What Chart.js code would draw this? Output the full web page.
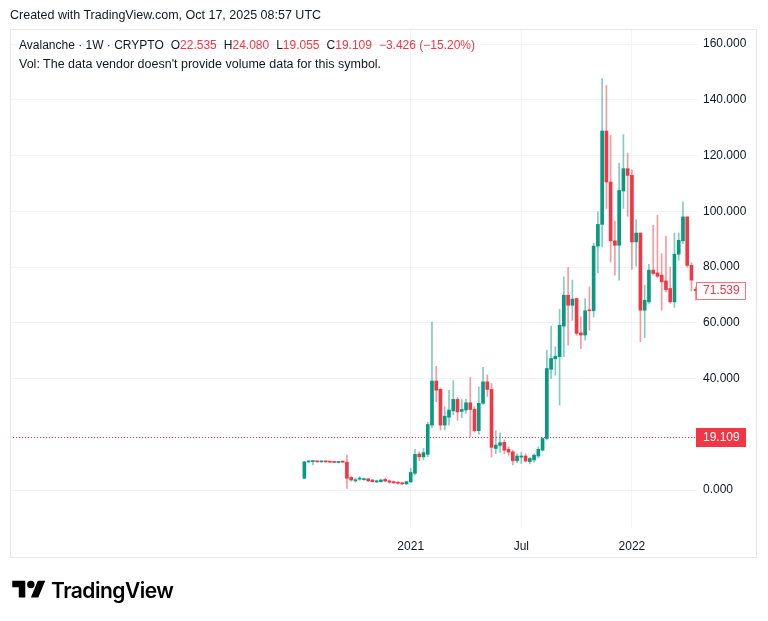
<!DOCTYPE html>
<html>
<head>
<meta charset="utf-8">
<script src="https://cdn.jsdelivr.net/npm/chart.js@4.4.1/dist/chart.umd.min.js"></script>
<style>
  html, body { margin: 0; padding: 0; background: #fff; }
  #wrap { position: relative; width: 768px; height: 621px; overflow: hidden; font-family: "Liberation Sans", Arial, sans-serif; color: #131722; }
  #chart { position: absolute; left: 0; top: 0; }
  #created { position: absolute; left: 10px; top: 8px; font-size: 12.5px; }
  #legend { position: absolute; left: 19px; top: 36px; font-size: 12px; line-height: 18.5px; }
  #legend .row1 span { margin-left: 7px; }
  #legend .row1 span.n { margin-left: 0; }
  #legend .red { color: #F23645; }
  #legend .row2 { font-size: 12.5px; }
  #logo { position: absolute; left: 12px; top: 577px; display: flex; align-items: center; }
  #logo span { font-family: Inter, "Noto Sans", sans-serif; font-weight: 600; font-size: 21px; letter-spacing: -0.5px; margin-left: 5px; color: #000; }
</style>
</head>
<body>
<div id="wrap">
  <canvas id="chart" width="768" height="621"></canvas>
  <div id="created">Created with TradingView.com, Oct 17, 2025 08:57 UTC</div>
  <div id="legend">
    <div class="row1"><span class="n">Avalanche · 1W · CRYPTO</span><span>O<b class="red" style="font-weight:normal">22.535</b></span><span>H<b class="red" style="font-weight:normal">24.080</b></span><span>L<b class="red" style="font-weight:normal">19.055</b></span><span>C<b class="red" style="font-weight:normal">19.109</b></span><span class="red">−3.426 (−15.20%)</span></div>
    <div class="row2">Vol: The data vendor doesn't provide volume data for this symbol.</div>
  </div>
  <div id="logo">
    <svg width="34" height="26" viewBox="0 0 36 28"><path d="M14 22H7V11H0V4h14v18zM28 22h-8l7.5-18h8L28 22z" fill="#000"/><circle cx="20" cy="8" r="4" fill="#000"/></svg>
    <span>TradingView</span>
  </div>
</div>
<script>
// weekly candles, week 0 = first bar on the chart
var opens  = [4.2,10.1,10.2,10.3,10.1,10.3,10.1,10.0,9.9,10.1,
              10.0,4.5,3.3,3.9,3.7,4.0,3.6,2.9,3.0,3.8,
              3.3,3.0,2.8,2.6,2.2,2.9,6.0,12.9,11.9,12.8,
              23.3,39.1,36.1,23.3,26.1,28.4,32.5,28.2,28.7,31.3,
              29.0,21.3,31.1,38.8,36.1,14.9,16.0,17.1,14.6,13.7,
              10.5,11.8,12.2,10.2,10.8,12.2,14.3,18.5,43.3,47.1,
              47.8,58.8,69.9,66.3,68.7,56.4,55.6,64.5,64.3,87.5,
              95.3,128.8,110.5,89.4,87.8,107.3,115.3,112.9,89.0,92.2,
              64.5,67.5,78.9,77.9,77.1,75.0,72.3,67.5,84.6,89.4,
              98.0,80.6,72.0];
var highs  = [10.3,10.4,10.4,10.5,10.4,10.5,10.3,10.3,10.2,10.4,
              12.5,4.8,4.3,4.8,4.3,4.2,3.8,3.6,3.9,4.2,
              3.6,3.2,3.0,2.8,3.2,7.8,14.6,13.7,14.9,24.3,
              60.3,44.4,36.6,29.9,35.8,39.2,33.2,32.5,32.5,40.4,
              30.0,37.0,44.0,41.3,38.2,21.3,20.5,18.0,15.5,14.3,
              13.0,13.5,13.0,11.8,13.0,15.5,18.8,50.2,58.8,51.4,
              64.8,76.5,79.8,75.3,68.7,62.1,68.7,72.9,88.6,99.8,
              147.6,145.2,127.2,96.5,117.3,127.5,120.9,114.9,97.0,92.2,
              73.5,81.0,95.0,98.6,84.8,91.0,80.0,92.2,92.2,103.4,
              98.0,81.5,72.9];
var lows   = [4.2,9.9,9.0,10.0,9.9,10.0,9.9,9.8,9.7,9.9,
              0.6,3.2,2.8,3.5,3.4,3.0,2.8,2.6,2.8,3.0,
              2.5,2.3,2.1,1.9,2.0,2.8,5.4,10.5,10.8,11.9,
              22.5,31.7,21.5,21.5,23.3,27.0,25.0,26.0,27.5,19.1,
              20.8,20.0,30.7,33.6,11.9,13.0,13.5,13.0,12.5,9.0,
              9.8,9.5,10.0,9.4,10.0,11.5,14.0,18.0,40.0,41.2,
              30.5,47.8,52.0,60.9,55.5,50.8,53.8,57.3,62.1,77.9,
              87.2,101.0,81.8,77.1,75.3,101.0,98.2,79.1,80.3,53.2,
              54.7,66.9,77.1,76.2,64.5,71.1,67.0,65.5,82.4,88.4,
              80.0,71.4,68.1];
var closes = [10.1,10.2,10.3,10.1,10.3,10.1,10.0,9.9,10.1,10.0,
              4.2,3.6,3.7,4.2,4.0,3.3,3.0,3.3,3.6,3.2,
              2.8,2.6,2.4,2.2,3.0,6.3,12.8,11.9,13.4,23.5,
              39.1,35.8,23.3,26.5,28.7,32.5,28.0,28.9,31.3,28.9,
              21.3,31.1,38.8,36.1,15.3,16.1,17.0,14.3,13.6,10.5,
              12.2,12.2,10.4,11.3,12.5,14.6,18.5,43.6,47.2,48.0,
              59.1,69.9,66.3,68.5,56.2,55.6,64.3,64.3,87.5,95.3,
              128.8,110.5,89.4,87.8,107.5,115.3,112.9,89.0,92.2,64.5,
              68.1,78.9,77.7,76.7,74.7,71.9,67.5,84.6,89.6,98.0,
              80.6,75.3,71.539];
var weeks = opens.map(function(o, i){ return i; });

var timeTicks = [25, 51, 77];
var timeLabels = ['2021', 'Jul', '2022'];
var priceTicks = [0, 40, 60, 80, 100, 120, 140, 160];

var lastClose = 19.109;
var markPrice = 71.539;

var upColor = '#089981', downColor = '#F23645';
var upWick = 'rgba(8,153,129,0.5)', downWick = 'rgba(242,54,69,0.5)';

function isUp(i){ return closes[i] >= opens[i]; }

var extras = {
  id: 'extras',
  beforeDatasetsDraw: function(chart){
    var ctx = chart.ctx, a = chart.chartArea, y = Math.round(chart.scales.y.getPixelForValue(lastClose)) + 0.5;
    ctx.save();
    ctx.strokeStyle = '#F23645';
    ctx.lineWidth = 1;
    ctx.setLineDash([1, 2]);
    ctx.beginPath(); ctx.moveTo(a.left, y); ctx.lineTo(a.right, y); ctx.stroke();
    ctx.restore();
  },
  afterDraw: function(chart){
    var ctx = chart.ctx, a = chart.chartArea, ys = chart.scales.y;
    ctx.save();
    // frame
    ctx.strokeStyle = '#e6e8ec';
    ctx.lineWidth = 1;
    ctx.strokeRect(10.5, 29.5, 746, 528);
    ctx.font = '12px "Liberation Sans", Arial, sans-serif';
    ctx.textBaseline = 'middle';
    ctx.textAlign = 'left';
    // last close label
    var y1 = ys.getPixelForValue(lastClose);
    ctx.fillStyle = '#F23645';
    ctx.fillRect(a.right - 1, Math.round(y1) - 9, 50, 19);
    ctx.fillStyle = '#fff';
    ctx.fillText(lastClose.toFixed(3), a.right + 6, y1 + 0.5);
    // outlined label
    var y2 = ys.getPixelForValue(markPrice);
    ctx.fillStyle = '#fff';
    ctx.fillRect(a.right - 1, Math.round(y2) - 9, 50, 18);
    ctx.strokeStyle = 'rgba(242,54,69,0.7)';
    ctx.strokeRect(a.right - 0.5, Math.round(y2) - 8.5, 49, 17);
    ctx.fillStyle = '#F23645';
    ctx.fillText(markPrice.toFixed(3), a.right + 6, y2 + 0.5);
    ctx.restore();
  }
};

var ctx = document.getElementById('chart').getContext('2d');
new Chart(ctx, {
  type: 'bar',
  data: {
    datasets: [{
      label: 'wick',
      data: weeks.map(function(w, i){ return {x: w, y: [lows[i], highs[i]]}; }),
      backgroundColor: weeks.map(function(w, i){ return isUp(i) ? upWick : downWick; }),
      barThickness: 1,
      grouped: false,
      order: 2
    }, {
      label: 'body',
      data: weeks.map(function(w, i){ return {x: w, y: [opens[i], closes[i]]}; }),
      backgroundColor: weeks.map(function(w, i){ return isUp(i) ? upColor : downColor; }),
      barThickness: 3,
      minBarLength: 1,
      grouped: false,
      order: 1
    }]
  },
  options: {
    responsive: false,
    animation: false,
    events: [],
    layout: { padding: { left: 10, top: 29, right: 11, bottom: 63 } },
    plugins: { legend: { display: false }, tooltip: { enabled: false } },
    scales: {
      x: {
        type: 'linear',
        min: -69.2,
        max: 92.3,
        offset: false,
        afterBuildTicks: function(s){ s.ticks = timeTicks.map(function(v){ return {value: v}; }); },
        afterFit: function(s){ s.height = 30; },
        grid: { color: '#f0f3fa', drawTicks: false, offset: false },
        border: { display: false },
        ticks: {
          autoSkip: false,
          maxRotation: 0,
          padding: 11,
          color: '#131722',
          font: { family: '"Liberation Sans", Arial, sans-serif', size: 12 },
          callback: function(v, i){ return timeLabels[i]; }
        }
      },
      y: {
        position: 'right',
        min: -13.63,
        max: 165.4,
        afterBuildTicks: function(s){ s.ticks = priceTicks.map(function(v){ return {value: v}; }); },
        afterFit: function(s){ s.width = 60; },
        grid: { color: '#f0f3fa', drawTicks: false },
        border: { display: false },
        ticks: {
          padding: 6,
          color: '#131722',
          font: { family: '"Liberation Sans", Arial, sans-serif', size: 12 },
          callback: function(v){ return v.toFixed(3); }
        }
      }
    }
  },
  plugins: [extras]
});
</script>
</body>
</html>
